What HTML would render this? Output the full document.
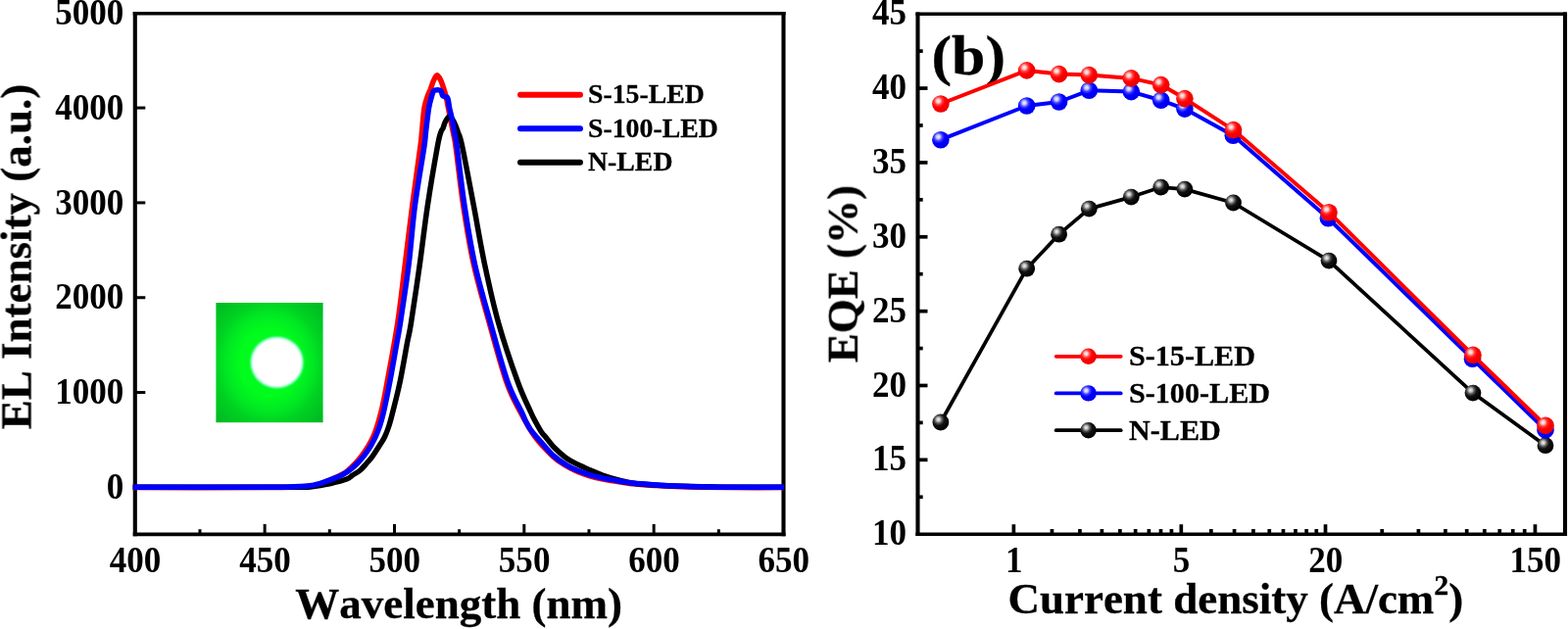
<!DOCTYPE html>
<html lang="en">
<head>
<meta charset="utf-8">
<title>EL spectra and EQE versus current density</title>
<style>
html,body{margin:0;padding:0;background:#ffffff;}
body{width:1600px;height:642px;overflow:hidden;}
svg{display:block;}
svg text.tk{stroke-width:0.0px;}
svg text{font-family:"Liberation Serif", "Times New Roman", Times, serif;font-weight:bold;fill:#000000;font-kerning:none;stroke:#000000;stroke-width:0.3px;stroke-linejoin:round;}
</style>
</head>
<body>
<svg width="1600" height="642" viewBox="0 0 1600 642">
<defs>
<radialGradient id="gR" cx="0.36" cy="0.33" r="0.7" fx="0.36" fy="0.33">
<stop offset="0" stop-color="#fff2f2"/><stop offset="0.16" stop-color="#ffc4c4"/><stop offset="0.34" stop-color="#ff3a3a"/><stop offset="0.55" stop-color="#ff0000"/><stop offset="1" stop-color="#e80000"/>
</radialGradient>
<radialGradient id="gB" cx="0.36" cy="0.33" r="0.7" fx="0.36" fy="0.33">
<stop offset="0" stop-color="#f2f2ff"/><stop offset="0.16" stop-color="#c4c4ff"/><stop offset="0.34" stop-color="#4040ff"/><stop offset="0.55" stop-color="#0000ff"/><stop offset="1" stop-color="#0000e8"/>
</radialGradient>
<radialGradient id="gK" cx="0.36" cy="0.33" r="0.7" fx="0.36" fy="0.33">
<stop offset="0" stop-color="#f4f4f4"/><stop offset="0.16" stop-color="#c0c0c0"/><stop offset="0.34" stop-color="#505050"/><stop offset="0.55" stop-color="#0c0c0c"/><stop offset="1" stop-color="#000000"/>
</radialGradient>
<radialGradient id="gGreen" cx="0.5" cy="0.5" r="0.75">
<stop offset="0" stop-color="#00ff1c"/><stop offset="0.38" stop-color="#00fb1e"/><stop offset="0.55" stop-color="#02e722"/><stop offset="0.667" stop-color="#04d224"/><stop offset="0.94" stop-color="#06b624"/><stop offset="1" stop-color="#06b022"/>
</radialGradient>
<filter id="soft" x="-20%" y="-20%" width="140%" height="140%"><feGaussianBlur stdDeviation="1.2"/></filter>
<filter id="soft2" x="-20%" y="-20%" width="140%" height="140%"><feGaussianBlur stdDeviation="0.8"/></filter>
<filter id="pageblur" x="0" y="0" width="100%" height="100%" filterUnits="userSpaceOnUse"><feGaussianBlur stdDeviation="0.6"/></filter>
</defs>
<rect x="0" y="0" width="1600" height="642" fill="#ffffff"/>
<g filter="url(#pageblur)">
<g id="left">
<rect x="220.4" y="309.0" width="109.2" height="122.2" fill="url(#gGreen)"/>
<ellipse cx="282.6" cy="369.9" rx="26.9" ry="26.2" fill="#8dfbd8" filter="url(#soft)"/>
<ellipse cx="282.6" cy="369.9" rx="25.6" ry="24.9" fill="#ffffff" filter="url(#soft2)"/>
<g stroke="#000" stroke-width="3.0" fill="none">
<path d="M270.14,545.4V534.9"/>
<path d="M402.48,545.4V534.9"/>
<path d="M534.82,545.4V534.9"/>
<path d="M667.16,545.4V534.9"/>
<path d="M203.97,545.4V540.2"/>
<path d="M336.31,545.4V540.2"/>
<path d="M468.65,545.4V540.2"/>
<path d="M600.99,545.4V540.2"/>
<path d="M733.33,545.4V540.2"/>
<path d="M137.8,400.57H148.3"/>
<path d="M137.8,303.74H148.3"/>
<path d="M137.8,206.91H148.3"/>
<path d="M137.8,110.08H148.3"/>
</g>
<path d="M137.8,12V547.2M799.5,12V547.2" stroke="#000" stroke-width="4.1" fill="none"/>
<path d="M135.75,13.8H801.55M135.75,545.4H801.55" stroke="#000" stroke-width="3.6" fill="none"/>
<clipPath id="cl"><rect x="135.7" y="13.8" width="664.3" height="531.6"/></clipPath>
<g clip-path="url(#cl)" fill="none" stroke-linejoin="round" stroke-linecap="butt">
<path d="M130,497.6C153.33,497.6 241.67,497.67 270,497.6C298.33,497.53 291.67,497.52 300,497.2C308.33,496.88 315,496.47 320,495.7C325,494.93 326.67,493.82 330,492.6C333.33,491.38 337,489.73 340,488.4C343,487.07 345.5,485.93 348,484.6C350.5,483.27 351.57,483.5 355,480.4C358.43,477.3 364.3,471.73 368.6,466C372.9,460.27 377.43,453.5 380.8,446C384.17,438.5 386.42,430.33 388.8,421C391.18,411.67 392.28,405.17 395.1,390C397.92,374.83 402.67,350 405.7,330C408.73,310 410.8,290 413.3,270C415.8,250 418.1,230 420.7,210C423.3,190 427.27,162.53 428.9,150C430.53,137.47 429.82,141.47 430.5,134.8C431.18,128.13 431.98,116.23 433,110C434.02,103.77 435.55,100.53 436.6,97.4C437.65,94.27 438.33,93.7 439.3,91.2C440.27,88.7 441.27,84.8 442.4,82.4C443.53,80 444.85,76.8 446.1,76.8C447.35,76.8 448.75,80 449.9,82.4C451.05,84.8 452.07,88.27 453,91.2C453.93,94.13 454.77,96.87 455.5,100C456.23,103.13 456.27,104.2 457.4,110C458.53,115.8 461.02,128.13 462.3,134.8C463.58,141.47 463.35,137.47 465.1,150C466.85,162.53 469.75,190 472.8,210C475.85,230 478.97,250 483.4,270C487.83,290 493.82,310 499.4,330C504.98,350 511.58,374.83 516.9,390C522.22,405.17 526.45,411.67 531.3,421C536.15,430.33 540.63,438.63 546,446C551.37,453.37 558.5,460.45 563.5,465.2C568.5,469.95 571.83,471.87 576,474.5C580.17,477.13 584.33,479.17 588.5,481C592.67,482.83 596.75,484.2 601,485.5C605.25,486.8 609.67,487.88 614,488.8C618.33,489.72 621.83,490.17 627,491C632.17,491.83 637.83,493.03 645,493.8C652.17,494.57 661.67,495.1 670,495.6C678.33,496.1 682.5,496.47 695,496.8C707.5,497.13 725.83,497.47 745,497.6C764.17,497.73 799.17,497.6 810,497.6" stroke="#ff0000" stroke-width="5.5"/>
<path d="M130,497.3C156.67,497.3 258.33,497.42 290,497.3C321.67,497.18 312.1,497.23 320,496.6C327.9,495.97 331.77,494.77 337.4,493.5C343.02,492.23 350.02,490.42 353.75,489C357.48,487.58 357.51,486.5 359.8,485C362.09,483.5 365.13,482 367.5,480C369.87,478 371.92,475.37 374,473C376.08,470.63 377.67,469.05 380,465.8C382.33,462.55 385.92,456.8 388,453.5C390.08,450.2 391.03,449.08 392.5,446C393.97,442.92 395.47,439.08 396.8,435C398.13,430.92 398.62,429 400.5,421.5C402.38,414 405.6,401.92 408.1,390C410.6,378.08 413.62,360 415.5,350C417.38,340 417.27,343.33 419.4,330C421.53,316.67 425.48,290 428.3,270C431.12,250 433.3,230 436.3,210C439.3,190 444.03,162.53 446.3,150C448.57,137.47 448.95,137.97 449.9,134.8C450.85,131.63 451.28,132.67 452,131C452.72,129.33 453.12,126.85 454.2,124.8C455.28,122.75 457.03,118.83 458.5,118.7C459.97,118.57 461.53,121.32 463,124C464.47,126.68 465.83,130.47 467.3,134.8C468.77,139.13 469.12,137.47 471.8,150C474.48,162.53 479.6,190 483.4,210C487.2,230 490.38,250 494.6,270C498.83,290 503.12,310 508.75,330C514.38,350 522.9,374.83 528.4,390C533.9,405.17 538.78,414.33 541.75,421C544.72,427.67 544.41,426.67 546.2,430C547.99,433.33 550.62,438.17 552.5,441C554.38,443.83 555.42,444.47 557.5,447C559.58,449.53 561.68,452.83 565,456.2C568.32,459.57 573.25,464.18 577.4,467.2C581.55,470.22 585.75,472.18 589.9,474.3C594.05,476.42 598.15,478.12 602.3,479.9C606.45,481.68 610.18,483.38 614.8,485C619.42,486.62 624.97,488.27 630,489.6C635.03,490.93 638.33,492.05 645,493C651.67,493.95 660.83,494.75 670,495.3C679.17,495.85 687.5,495.98 700,496.3C712.5,496.62 726.67,497.03 745,497.2C763.33,497.37 799.17,497.28 810,497.3" stroke="#000000" stroke-width="5.5"/>
<path d="M130,497.3C153.33,497.3 241.67,497.38 270,497.3C298.33,497.22 293,496.98 300,496.8C307,496.62 308.67,496.47 312,496.2C315.33,495.93 317.83,495.58 320,495.2C322.17,494.82 323.33,494.38 325,493.9C326.67,493.42 328,492.97 330,492.3C332,491.63 334.67,490.77 337,489.9C339.33,489.03 341.85,488.03 344,487.1C346.15,486.17 347.86,485.45 349.9,484.3C351.94,483.15 354.6,481.35 356.25,480.2C357.9,479.05 358.34,478.68 359.8,477.4C361.26,476.12 363.18,474.4 365,472.5C366.82,470.6 369.12,468 370.75,466C372.38,464 373.43,462.53 374.8,460.5C376.18,458.47 377.59,456.28 379,453.8C380.41,451.32 381.87,448.65 383.25,445.6C384.63,442.55 385.97,439.52 387.3,435.5C388.63,431.48 389.51,429.08 391.25,421.5C392.99,413.92 395.48,401.92 397.75,390C400.02,378.08 403.12,360 404.9,350C406.67,340 406.37,343.33 408.4,330C410.43,316.67 414.6,290 417.1,270C419.6,250 420.78,230 423.4,210C426.02,190 430.95,162.53 432.8,150C434.65,137.47 433.7,141.47 434.5,134.8C435.3,128.13 436.63,115.97 437.6,110C438.57,104.03 439.57,101.73 440.3,99C441.03,96.27 441.45,94.75 442,93.6C442.55,92.45 442.43,92.35 443.6,92.1C444.77,91.85 447.87,91.85 449,92.1C450.13,92.35 449.97,92.68 450.4,93.6C450.83,94.52 451.08,96.77 451.6,97.6C452.12,98.43 452.72,98.33 453.5,98.6C454.28,98.87 455.62,98.38 456.3,99.2C456.98,100.02 457.22,101.7 457.6,103.5C457.98,105.3 457.97,106.87 458.6,110C459.23,113.13 460.58,118.17 461.4,122.3C462.22,126.43 462.68,130.18 463.5,134.8C464.32,139.42 464.55,137.47 466.3,150C468.05,162.53 470.95,190 474,210C477.05,230 480.17,250 484.6,270C489.03,290 495.02,310 500.6,330C506.18,350 512.78,374.83 518.1,390C523.42,405.17 529.43,414.33 532.5,421C535.57,427.67 535.08,427.17 536.5,430C537.92,432.83 539.17,435.33 541,438C542.83,440.67 545.58,443.73 547.5,446C549.42,448.27 549.58,448.37 552.5,451.6C555.42,454.83 560.85,461.62 565,465.4C569.15,469.18 573.25,471.78 577.4,474.3C581.55,476.82 585.75,478.73 589.9,480.5C594.05,482.27 598.15,483.65 602.3,484.9C606.45,486.15 610.63,487.12 614.8,488C618.97,488.88 622.27,489.35 627.3,490.2C632.33,491.05 637.88,492.3 645,493.1C652.12,493.9 661.67,494.48 670,495C678.33,495.52 686.67,495.93 695,496.25C703.33,496.57 711.67,496.73 720,496.9C728.33,497.07 730,497.19 745,497.25C760,497.31 799.17,497.25 810,497.25" stroke="#0000ff" stroke-width="5.5"/>
</g>
<text transform="translate(138.1,584.2) scale(0.935,1)" font-size="37.5" text-anchor="middle" class="tk">400</text>
<text transform="translate(270.44,584.2) scale(0.935,1)" font-size="37.5" text-anchor="middle" class="tk">450</text>
<text transform="translate(402.78,584.2) scale(0.935,1)" font-size="37.5" text-anchor="middle" class="tk">500</text>
<text transform="translate(535.12,584.2) scale(0.935,1)" font-size="37.5" text-anchor="middle" class="tk">550</text>
<text transform="translate(667.46,584.2) scale(0.935,1)" font-size="37.5" text-anchor="middle" class="tk">600</text>
<text transform="translate(799.8,584.2) scale(0.935,1)" font-size="37.5" text-anchor="middle" class="tk">650</text>
<text transform="translate(126.3,509.1) scale(0.935,1)" font-size="37.5" text-anchor="end" class="tk">0</text>
<text transform="translate(126.3,412.27) scale(0.935,1)" font-size="37.5" text-anchor="end" class="tk">1000</text>
<text transform="translate(126.3,315.44) scale(0.935,1)" font-size="37.5" text-anchor="end" class="tk">2000</text>
<text transform="translate(126.3,218.61) scale(0.935,1)" font-size="37.5" text-anchor="end" class="tk">3000</text>
<text transform="translate(126.3,121.78) scale(0.935,1)" font-size="37.5" text-anchor="end" class="tk">4000</text>
<text transform="translate(126.3,24.95) scale(0.935,1)" font-size="37.5" text-anchor="end" class="tk">5000</text>
<text x="468.2" y="631.2" font-size="45" text-anchor="middle">Wavelength (nm)</text>
<text transform="translate(31.5,262) rotate(-90)" font-size="45" text-anchor="middle">EL Intensity (a.u.)</text>
<path d="M531,96.7H592" stroke="#ff0000" stroke-width="6" stroke-linecap="round"/>
<text transform="translate(600,105.3) scale(1.03,1)" font-size="27" text-anchor="start">S-15-LED</text>
<path d="M531,131.3H592" stroke="#0000ff" stroke-width="6" stroke-linecap="round"/>
<text transform="translate(600,139.9) scale(1.03,1)" font-size="27" text-anchor="start">S-100-LED</text>
<path d="M531,165.7H592" stroke="#000000" stroke-width="6" stroke-linecap="round"/>
<text transform="translate(600,174.3) scale(1.03,1)" font-size="27" text-anchor="start">N-LED</text>
</g>
<g id="right">
<g stroke="#000" stroke-width="3.7" fill="none">
<path d="M1034.4,545.2V535.2"/>
<path d="M1205.3,545.2V535.2"/>
<path d="M1352.5,545.2V535.2"/>
<path d="M1566.45,545.2V535.2"/>
<path d="M1073.45,545.2V540"/>
<path d="M1101.93,545.2V540"/>
<path d="M1124.37,545.2V540"/>
<path d="M1142.88,545.2V540"/>
<path d="M1158.64,545.2V540"/>
<path d="M1172.36,545.2V540"/>
<path d="M1184.51,545.2V540"/>
<path d="M1195.41,545.2V540"/>
<path d="M1235.85,545.2V540"/>
<path d="M1259.54,545.2V540"/>
<path d="M1278.9,545.2V540"/>
<path d="M1295.27,545.2V540"/>
<path d="M1309.45,545.2V540"/>
<path d="M1321.95,545.2V540"/>
<path d="M1333.14,545.2V540"/>
<path d="M1343.26,545.2V540"/>
<path d="M1410.23,545.2V540"/>
<path d="M1447.41,545.2V540"/>
<path d="M1474.9,545.2V540"/>
<path d="M1496.71,545.2V540"/>
<path d="M1514.8,545.2V540"/>
<path d="M1530.25,545.2V540"/>
<path d="M1543.74,545.2V540"/>
<path d="M1555.7,545.2V540"/>
<path d="M936.5,469.34H946.5"/>
<path d="M936.5,393.49H946.5"/>
<path d="M936.5,317.63H946.5"/>
<path d="M936.5,241.77H946.5"/>
<path d="M936.5,165.91H946.5"/>
<path d="M936.5,90.06H946.5"/>
<path d="M936.5,507.27H941.7"/>
<path d="M936.5,431.41H941.7"/>
<path d="M936.5,355.56H941.7"/>
<path d="M936.5,279.7H941.7"/>
<path d="M936.5,203.84H941.7"/>
<path d="M936.5,127.99H941.7"/>
<path d="M936.5,52.13H941.7"/>
</g>
<text transform="translate(950.5,75.6) scale(1.066,1)" font-size="58" text-anchor="start">(b)</text>
<path d="M959.9,431L1047.7,274.2L1080.6,239.2L1111.3,213.1L1154.3,201.1L1184.7,191.1L1208.9,193.1L1258.5,207L1356,266.1L1503,401.1L1577,454.7" fill="none" stroke="#000000" stroke-width="3.7" stroke-linejoin="round"/>
<circle cx="959.9" cy="431" r="8.4" fill="url(#gK)"/>
<circle cx="1047.7" cy="274.2" r="8.4" fill="url(#gK)"/>
<circle cx="1080.6" cy="239.2" r="8.4" fill="url(#gK)"/>
<circle cx="1111.3" cy="213.1" r="8.4" fill="url(#gK)"/>
<circle cx="1154.3" cy="201.1" r="8.4" fill="url(#gK)"/>
<circle cx="1184.7" cy="191.1" r="8.4" fill="url(#gK)"/>
<circle cx="1208.9" cy="193.1" r="8.4" fill="url(#gK)"/>
<circle cx="1258.5" cy="207" r="8.4" fill="url(#gK)"/>
<circle cx="1356" cy="266.1" r="8.4" fill="url(#gK)"/>
<circle cx="1503" cy="401.1" r="8.4" fill="url(#gK)"/>
<circle cx="1577" cy="454.7" r="8.4" fill="url(#gK)"/>
<path d="M959.9,142.7L1047.7,108L1080.6,104L1111.3,92.3L1154.3,93.6L1184.7,102.3L1208.9,111.1L1258.3,138.2L1355.3,222.7L1502.5,366.2L1577,438.9" fill="none" stroke="#0000ff" stroke-width="4.0" stroke-linejoin="round"/>
<circle cx="959.9" cy="142.7" r="8.8" fill="url(#gB)"/>
<circle cx="1047.7" cy="108" r="8.8" fill="url(#gB)"/>
<circle cx="1080.6" cy="104" r="8.8" fill="url(#gB)"/>
<circle cx="1111.3" cy="92.3" r="8.8" fill="url(#gB)"/>
<circle cx="1154.3" cy="93.6" r="8.8" fill="url(#gB)"/>
<circle cx="1184.7" cy="102.3" r="8.8" fill="url(#gB)"/>
<circle cx="1208.9" cy="111.1" r="8.8" fill="url(#gB)"/>
<circle cx="1258.3" cy="138.2" r="8.8" fill="url(#gB)"/>
<circle cx="1355.3" cy="222.7" r="8.8" fill="url(#gB)"/>
<circle cx="1502.5" cy="366.2" r="8.8" fill="url(#gB)"/>
<circle cx="1577" cy="438.9" r="8.8" fill="url(#gB)"/>
<path d="M959.9,106L1047.7,71.9L1080.6,75.6L1111.3,76.6L1154.3,79.9L1184.7,86.6L1208.9,100.6L1258.5,132.6L1356,216.7L1503,362.4L1577,434.2" fill="none" stroke="#ff0000" stroke-width="4.0" stroke-linejoin="round"/>
<circle cx="959.9" cy="106" r="8.8" fill="url(#gR)"/>
<circle cx="1047.7" cy="71.9" r="8.8" fill="url(#gR)"/>
<circle cx="1080.6" cy="75.6" r="8.8" fill="url(#gR)"/>
<circle cx="1111.3" cy="76.6" r="8.8" fill="url(#gR)"/>
<circle cx="1154.3" cy="79.9" r="8.8" fill="url(#gR)"/>
<circle cx="1184.7" cy="86.6" r="8.8" fill="url(#gR)"/>
<circle cx="1208.9" cy="100.6" r="8.8" fill="url(#gR)"/>
<circle cx="1258.5" cy="132.6" r="8.8" fill="url(#gR)"/>
<circle cx="1356" cy="216.7" r="8.8" fill="url(#gR)"/>
<circle cx="1503" cy="362.4" r="8.8" fill="url(#gR)"/>
<circle cx="1577" cy="434.2" r="8.8" fill="url(#gR)"/>
<path d="M936.5,12.4V547M1597,12.4V547" stroke="#000" stroke-width="4.1" fill="none"/>
<path d="M934.45,14.2H1599.05M934.45,545.2H1599.05" stroke="#000" stroke-width="3.6" fill="none"/>
<text transform="translate(1034.7,583.8) scale(0.935,1)" font-size="37.5" text-anchor="middle" class="tk">1</text>
<text transform="translate(1205.6,583.8) scale(0.935,1)" font-size="37.5" text-anchor="middle" class="tk">5</text>
<text transform="translate(1352.8,583.8) scale(0.935,1)" font-size="37.5" text-anchor="middle" class="tk">20</text>
<text transform="translate(1566.75,583.8) scale(0.935,1)" font-size="37.5" text-anchor="middle" class="tk">150</text>
<text transform="translate(925,556.3) scale(0.935,1)" font-size="37.5" text-anchor="end" class="tk">10</text>
<text transform="translate(925,480.44) scale(0.935,1)" font-size="37.5" text-anchor="end" class="tk">15</text>
<text transform="translate(925,404.59) scale(0.935,1)" font-size="37.5" text-anchor="end" class="tk">20</text>
<text transform="translate(925,328.73) scale(0.935,1)" font-size="37.5" text-anchor="end" class="tk">25</text>
<text transform="translate(925,252.87) scale(0.935,1)" font-size="37.5" text-anchor="end" class="tk">30</text>
<text transform="translate(925,177.01) scale(0.935,1)" font-size="37.5" text-anchor="end" class="tk">35</text>
<text transform="translate(925,101.16) scale(0.935,1)" font-size="37.5" text-anchor="end" class="tk">40</text>
<text transform="translate(925,25.3) scale(0.935,1)" font-size="37.5" text-anchor="end" class="tk">45</text>
<text x="1260.9" y="626" font-size="45" text-anchor="middle">Current density (A/cm<tspan font-size="30" dy="-19.5">2</tspan><tspan dy="19.5">)</tspan></text>
<text transform="translate(874.8,279.7) rotate(-90)" font-size="45" text-anchor="middle">EQE (%)</text>
<path d="M1077.7,363.8H1143.7" stroke="#ff0000" stroke-width="3.8" stroke-linecap="round"/>
<circle cx="1110.6" cy="363.8" r="8.2" fill="url(#gR)"/>
<text transform="translate(1152,373.2) scale(1.022,1)" font-size="29.5" text-anchor="start">S-15-LED</text>
<path d="M1077.7,401.4H1143.7" stroke="#0000ff" stroke-width="3.8" stroke-linecap="round"/>
<circle cx="1110.6" cy="401.4" r="8.2" fill="url(#gB)"/>
<text transform="translate(1152,410.8) scale(1.022,1)" font-size="29.5" text-anchor="start">S-100-LED</text>
<path d="M1077.7,439.2H1143.7" stroke="#000000" stroke-width="3.8" stroke-linecap="round"/>
<circle cx="1110.6" cy="439.2" r="8.2" fill="url(#gK)"/>
<text transform="translate(1152,448.6) scale(1.022,1)" font-size="29.5" text-anchor="start">N-LED</text>
</g>
</g>
</svg>
</body>
</html>
